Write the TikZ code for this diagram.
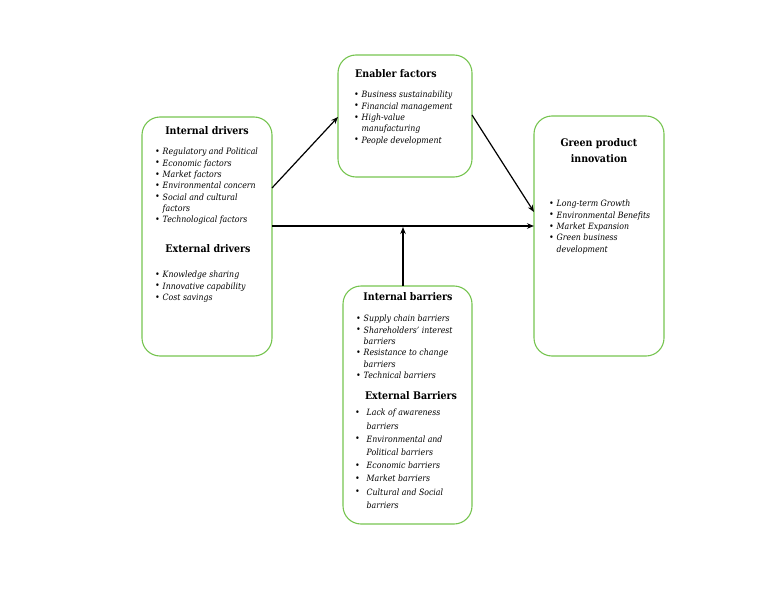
\documentclass[tikz,border=0pt]{standalone}
\usepackage{fontspec}
\setmainfont{DejaVu Serif Condensed}
\usetikzlibrary{arrows.meta}
\definecolor{boxgreen}{RGB}{118,196,80}
\newcommand{\bi}[1]{\makebox[7.5pt][l]{\raisebox{0.3pt}{\small •}}\textit{#1}}
\newcommand{\ci}[1]{\hspace{7.5pt}\textit{#1}}
\newcommand{\bj}[1]{\makebox[11.5pt][l]{\raisebox{0.3pt}{\small •}}\textit{#1}}
\newcommand{\cj}[1]{\hspace{11.5pt}\textit{#1}}
\begin{document}
\begin{tikzpicture}[x=1pt,y=-1pt,
  gbox/.style={draw=boxgreen,line width=1.1pt,rounded corners=18pt},
  ttl/.style={font=\fontsize{10.5}{12}\selectfont\bfseries,inner sep=0pt},
  lst/.style={font=\fontsize{8.7}{11.3}\selectfont,align=left,anchor=north west,inner sep=0pt},
  lstw/.style={font=\fontsize{8.7}{13.2}\selectfont,align=left,anchor=north west,inner sep=0pt},
  arr/.style={-{Stealth[length=7pt,width=5.5pt]},line width=1.2pt,black}]
\useasboundingbox (0,0) rectangle (768,594);
% boxes
\draw[gbox] (142,117) rectangle (272,356);
\draw[gbox] (338,55) rectangle (472,177);
\draw[gbox] (343,286) rectangle (472,524);
\draw[gbox] (534,116) rectangle (664,356);
% internal drivers
\node[ttl] (t1) at (207,131) {Internal drivers};
\node[lst] (l1) at (155,148) {\bi{Regulatory and Political}\\\bi{Economic factors}\\\bi{Market factors}\\\bi{Environmental concern}\\\bi{Social and cultural}\\\ci{factors}\\\bi{Technological factors}};
\node[ttl] (t2) at (208,249) {External drivers};
\node[lst] (l2) at (155,271) {\bi{Knowledge sharing}\\\bi{Innovative capability}\\\bi{Cost savings}};
% enabler
\node[ttl] (t3) at (396,74) {Enabler factors};
\node[lst] (l3) at (354,91) {\bi{Business sustainability}\\\bi{Financial management}\\\bi{High-value}\\\ci{manufacturing}\\\bi{People development}};
% barriers
\node[ttl] (t4) at (408,297) {Internal barriers};
\node[lst] (l4) at (356,315) {\bi{Supply chain barriers}\\\bi{Shareholders' interest}\\\ci{barriers}\\\bi{Resistance to change}\\\ci{barriers}\\\bi{Technical barriers}};
\node[ttl] (t5) at (411,396) {External Barriers};
\node[lstw] (l5) at (355,409) {\bj{Lack of awareness}\\\cj{barriers}\\\bj{Environmental and}\\\cj{Political barriers}\\\bj{Economic barriers}\\\bj{Market barriers}\\\bj{Cultural and Social}\\\cj{barriers}};
% green
\node[ttl,align=center,font=\fontsize{10.5}{16}\selectfont\bfseries] (t6) at (599,151) {Green product\\innovation};
\node[lst] (l6) at (549,200) {\bi{Long-term Growth}\\\bi{Environmental Benefits}\\\bi{Market Expansion}\\\bi{Green business}\\\ci{development}};
% arrows
\coordinate (a1) at (272,188); \coordinate (a2) at (338,117);
\coordinate (b1) at (472,115); \coordinate (b2) at (534,212);
\coordinate (c1) at (272,226); \coordinate (c2) at (534,226);
\coordinate (d1) at (403,286); \coordinate (d2) at (403,227);
\draw[arr] (a1) -- (a2);
\draw[arr] (b1) -- (b2);
\draw[arr] (c1) -- (c2);
\draw[arr] (d1) -- (d2);
\end{tikzpicture}
\end{document}
